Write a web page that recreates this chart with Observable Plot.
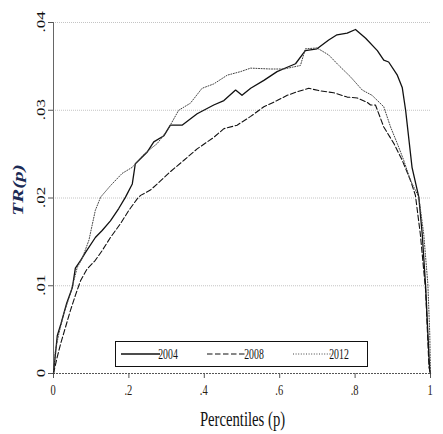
<!DOCTYPE html>
<html>
<head>
<meta charset="utf-8">
<script src="https://cdn.jsdelivr.net/npm/d3@7"></script>
<script src="https://cdn.jsdelivr.net/npm/@observablehq/plot@0.6"></script>
<style>
  html, body { margin: 0; padding: 0; background: #fff; }
  #chart svg { display: block; }
</style>
</head>
<body>
<div id="chart"></div>
<script>
// ---- data ----
const years = ["2004", "2008", "2012"];

const p2004 = [0,0.01,0.02,0.035,0.05,0.058,0.072,0.085,0.111,0.129,0.151,0.173,0.191,0.209,0.217,0.248,0.266,0.293,0.31,0.341,0.381,0.425,0.452,0.483,0.5,0.523,0.558,0.593,0.62,0.642,0.668,0.699,0.73,0.752,0.779,0.801,0.828,0.859,0.876,0.889,0.912,0.925,0.934,0.951,0.969,0.978,0.987,0.993,0.998,1];
const v2004 = [0,0.0043,0.0057,0.0080,0.0098,0.012,0.0129,0.0138,0.0155,0.0163,0.0174,0.0188,0.0201,0.0216,0.0239,0.0252,0.0264,0.0271,0.0283,0.0283,0.0296,0.0306,0.0311,0.0323,0.0317,0.0325,0.0334,0.0344,0.0349,0.0353,0.0368,0.037,0.038,0.0386,0.0388,0.0392,0.0382,0.0368,0.0357,0.0355,0.034,0.0326,0.03,0.0235,0.0201,0.0159,0.01,0.0046,0.0003,0];

const p2008 = [0,0.01,0.019,0.032,0.045,0.058,0.072,0.089,0.111,0.129,0.151,0.178,0.2,0.222,0.231,0.257,0.275,0.31,0.346,0.381,0.425,0.452,0.487,0.523,0.558,0.593,0.62,0.646,0.677,0.708,0.743,0.779,0.806,0.832,0.841,0.854,0.876,0.903,0.925,0.947,0.96,0.973,0.987,0.996,1];
const v2008 = [0,0.0019,0.0034,0.0053,0.0072,0.0089,0.0106,0.0119,0.0129,0.014,0.0155,0.0171,0.0186,0.0199,0.0203,0.0209,0.0216,0.023,0.0243,0.0256,0.0269,0.0279,0.0283,0.0293,0.0304,0.0311,0.0317,0.0321,0.0325,0.0322,0.032,0.0315,0.0314,0.0309,0.0306,0.0306,0.0281,0.0262,0.0243,0.022,0.0203,0.0159,0.0095,0.0007,0];

const p2012 = [0,0.005,0.014,0.027,0.045,0.063,0.076,0.094,0.111,0.125,0.151,0.182,0.209,0.24,0.275,0.302,0.332,0.363,0.394,0.425,0.461,0.496,0.523,0.576,0.611,0.633,0.655,0.668,0.699,0.73,0.757,0.788,0.819,0.845,0.876,0.894,0.912,0.929,0.947,0.969,0.982,0.993,0.998,1];
const v2012 = [0,0.0026,0.0045,0.0068,0.0091,0.0121,0.0131,0.0152,0.0186,0.0201,0.0214,0.0228,0.0235,0.025,0.0262,0.0277,0.03,0.0308,0.0325,0.033,0.034,0.0344,0.0348,0.0347,0.0347,0.0349,0.0351,0.037,0.0371,0.0363,0.0351,0.0338,0.0323,0.0317,0.0304,0.0281,0.0262,0.0243,0.022,0.0201,0.0159,0.0102,0.0046,0];

const xTicks = [0, 0.2, 0.4, 0.6, 0.8, 1];
const xTickLabels = ["0", ".2", ".4", ".6", ".8", "1"];
const yTicks = [0, 0.01, 0.02, 0.03, 0.04];
const yTickLabels = ["0", ".01", ".02", ".03", ".04"];
const gridTicks = [0.01, 0.02, 0.03, 0.04];
const xTitle = "Percentiles (p)";
const yTitle = "TR(p)";

// ---- build ----
const toRows = (ps, vs) => ps.map((p, i) => ({p, v: vs[i]}));
const d2004 = toRows(p2004, v2004);
const d2008 = toRows(p2008, v2008);
const d2012 = toRows(p2012, v2012);

const styles = {
  "2004": {stroke: "#111", strokeWidth: 1.3, strokeDasharray: null},
  "2008": {stroke: "#111", strokeWidth: 1.1, strokeDasharray: "5.5,2.5"},
  "2012": {stroke: "#444", strokeWidth: 1.0, strokeDasharray: "1,1.6"}
};

const font = "Liberation Serif";
const squeeze = 0.7; // the reference text is horizontally condensed
const M = {left: 53, right: 13, top: 22, bottom: 61};
const W = 443, H = 434;

const chart = Plot.plot({
  width: W,
  height: H,
  marginLeft: M.left,
  marginRight: M.right,
  marginTop: M.top,
  marginBottom: M.bottom,
  style: {background: "#fff", color: "#111"},
  x: {domain: [0, 1]},
  y: {domain: [0, 0.04]},
  marks: [
    Plot.ruleY(gridTicks, {stroke: "#c4c4c4", strokeWidth: 1, strokeDasharray: "1,1"}),
    Plot.ruleY([0], {stroke: "#555", strokeWidth: 1, strokeDasharray: "2,1"}),
    Plot.ruleX([0], {stroke: "#666", strokeWidth: 1}),
    Plot.axisX({ticks: xTicks, tickFormat: () => "", tickSize: 5, label: null, stroke: "#555"}),
    Plot.axisY({ticks: yTicks, tickFormat: () => "", tickSize: 5, label: null, stroke: "#555"}),
    Plot.line(d2004, {x: "p", y: "v", ...styles["2004"]}),
    Plot.line(d2008, {x: "p", y: "v", ...styles["2008"]}),
    Plot.line(d2012, {x: "p", y: "v", ...styles["2012"]})
  ]
});

const sx = chart.scale("x"), sy = chart.scale("y");
const svg = d3.select(chart);
const tg = svg.append("g").attr("font-family", font).attr("fill", "#111");
const frameBottom = H - M.bottom;

// x tick labels
xTicks.forEach((t, i) => {
  tg.append("text")
    .attr("transform", `translate(${sx.apply(t)},${frameBottom + 11}) scale(${squeeze},1)`)
    .attr("text-anchor", "middle").attr("dy", "0.71em")
    .attr("font-size", 15).attr("fill", "#2a2010")
    .text(xTickLabels[i]);
});
// y tick labels (rotated)
yTicks.forEach((t, i) => {
  tg.append("text")
    .attr("transform", `translate(${M.left - 12},${sy.apply(t)}) scale(${squeeze},1) rotate(-90)`)
    .attr("text-anchor", "middle").attr("dy", "0.32em")
    .attr("font-size", 17)
    .text(yTickLabels[i]);
});
// axis titles
tg.append("text")
  .attr("transform", `translate(${(M.left + W - M.right) / 2 + 1},${frameBottom + 46}) scale(${squeeze},1)`)
  .attr("text-anchor", "middle").attr("dy", "0.32em")
  .attr("font-size", 21)
  .text(xTitle);
tg.append("text")
  .attr("transform", `translate(18.5,${(M.top + frameBottom) / 2 - 7.5}) scale(${squeeze},1) rotate(-90)`)
  .attr("text-anchor", "middle").attr("dy", "0.32em")
  .attr("font-size", 21).attr("font-style", "italic").attr("font-weight", "bold")
  .attr("fill", "#1c2b55")
  .text(yTitle);

// ---- legend inside the plot area ----
const lg = svg.append("g").attr("transform", "translate(115.5,341.5)").attr("font-family", font);
lg.append("rect").attr("width", 252).attr("height", 25).attr("fill", "#fff").attr("stroke", "#111").attr("stroke-width", 1);
const lineX = [5.5, 91.5, 177.5];
const textX = [52.5, 138.5, 223.5];
years.forEach((yr, i) => {
  const s = styles[yr];
  lg.append("line")
    .attr("x1", lineX[i]).attr("x2", lineX[i] + 39)
    .attr("y1", 12.5).attr("y2", 12.5)
    .attr("stroke", s.stroke).attr("stroke-width", s.strokeWidth)
    .attr("stroke-dasharray", s.strokeDasharray);
  lg.append("text")
    .attr("transform", `translate(${textX[i]},12.5) scale(${squeeze},1)`)
    .attr("dy", "0.35em")
    .attr("font-size", 14).attr("fill", "#111")
    .text(yr);
});

document.getElementById("chart").appendChild(chart);
</script>
</body>
</html>
